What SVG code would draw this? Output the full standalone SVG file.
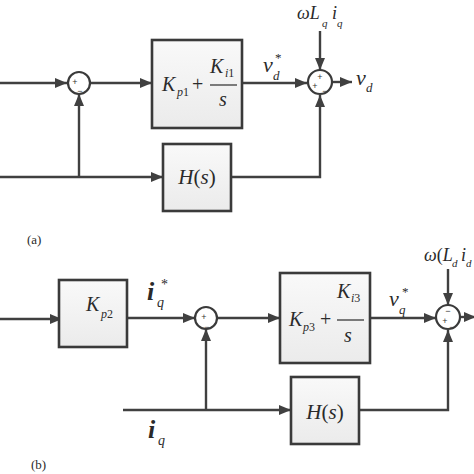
<svg xmlns="http://www.w3.org/2000/svg" width="474" height="474" viewBox="0 0 474 474">
<style>
.ln{fill:none;stroke:#404040;stroke-width:2.4}
.bx{fill:url(#g);stroke:#3a3a3a;stroke-width:2.6}
.sm{fill:#fff;stroke:#3a3a3a;stroke-width:2.2}
.t{font-family:"Liberation Serif","Times New Roman",serif;font-style:italic;fill:#2a2a2a}
.n{font-family:"Liberation Serif","Times New Roman",serif;font-style:normal;fill:#2a2a2a}
.sg{font-family:"Liberation Sans",Arial,sans-serif;fill:#333;font-size:9px}
</style>
<defs>
<linearGradient id="g" x1="0" y1="0" x2="0" y2="1">
<stop offset="0" stop-color="#f9f9f9"/>
<stop offset="1" stop-color="#ebebeb"/>
</linearGradient>
<marker id="a" markerUnits="userSpaceOnUse" markerWidth="12" markerHeight="10" refX="12" refY="5" orient="auto">
<path d="M0,0 L12,5 L0,10 z" fill="#404040"/>
</marker>
</defs>

<g id="connectors">
<!-- (a) -->
<line class="ln" x1="0" y1="83" x2="67" y2="83" marker-end="url(#a)"/>
<line class="ln" x1="90" y1="83" x2="152" y2="83" marker-end="url(#a)"/>
<polyline class="ln" points="0,177 163,177" marker-end="url(#a)"/>
<line class="ln" x1="79" y1="177" x2="79" y2="94" marker-end="url(#a)"/>
<line class="ln" x1="242" y1="83" x2="307" y2="83" marker-end="url(#a)"/>
<line class="ln" x1="320" y1="31" x2="320" y2="70" marker-end="url(#a)"/>
<polyline class="ln" points="231,177 320,177 320,95" marker-end="url(#a)"/>
<line class="ln" x1="332" y1="82" x2="352" y2="82" marker-end="url(#a)"/>
<!-- (b) -->
<line class="ln" x1="0" y1="319" x2="62" y2="319" marker-end="url(#a)"/>
<line class="ln" x1="127" y1="318" x2="195" y2="318" marker-end="url(#a)"/>
<line class="ln" x1="217" y1="318" x2="280" y2="318" marker-end="url(#a)"/>
<polyline class="ln" points="123,410 291,410" marker-end="url(#a)"/>
<line class="ln" x1="206" y1="410" x2="206" y2="329" marker-end="url(#a)"/>
<line class="ln" x1="370" y1="318" x2="436" y2="318" marker-end="url(#a)"/>
<line class="ln" x1="448" y1="269" x2="448" y2="305" marker-end="url(#a)"/>
<polyline class="ln" points="359,410 448,410 448,330" marker-end="url(#a)"/>
<line class="ln" x1="460" y1="317" x2="476" y2="317" marker-end="url(#a)"/>
</g>

<g id="sum1">
<circle class="sm" cx="79" cy="83" r="11"/>
<text class="sg" x="75" y="85" text-anchor="middle">+</text>
<text class="sg" x="80" y="94" text-anchor="middle">−</text>
</g>

<g id="pi1">
<rect class="bx" x="152" y="40" width="90" height="88"/>
<text class="t" x="162" y="91" font-size="20">K</text>
<text class="t" x="177" y="96" font-size="12">p<tspan class="n">1</tspan></text>
<text class="n" x="192" y="91" font-size="20">+</text>
<text class="t" x="210" y="73" font-size="20">K</text>
<text class="t" x="225" y="77" font-size="12">i<tspan class="n">1</tspan></text>
<line x1="210" y1="85" x2="237" y2="85" stroke="#2a2a2a" stroke-width="1.2"/>
<text class="t" x="219" y="106" font-size="20">s</text>
</g>

<g id="H1">
<rect class="bx" x="163" y="144" width="68" height="67"/>
<text class="t" x="197" y="184" font-size="21" text-anchor="middle">H<tspan class="n">(</tspan>s<tspan class="n">)</tspan></text>
</g>

<g id="sum2">
<circle class="sm" cx="320" cy="82" r="12"/>
<text class="sg" x="320" y="80" text-anchor="middle">+</text>
<text class="sg" x="315" y="89" text-anchor="middle">+</text>
<text class="sg" x="325" y="94" text-anchor="middle">−</text>
</g>

<g id="labels-a">
<text class="t" x="297" y="19" font-size="18">ωL</text>
<text class="t" x="322" y="27" font-size="11">q</text>
<text class="t" x="332" y="19" font-size="18">i</text>
<text class="t" x="337" y="27" font-size="11">q</text>
<text class="t" x="263" y="72" font-size="22">v</text>
<text class="t" x="273" y="80" font-size="13">d</text>
<text class="n" x="275" y="62" font-size="13">*</text>
<text class="t" x="356" y="85" font-size="22">v</text>
<text class="t" x="366" y="92" font-size="13">d</text>
<text class="n" x="27" y="244" font-size="13">(a)</text>
</g>

<g id="Kp2">
<rect class="bx" x="59" y="280" width="68" height="67"/>
<text class="t" x="86" y="311" font-size="20">K</text>
<text class="t" x="101" y="318" font-size="12">p<tspan class="n">2</tspan></text>
</g>

<g id="sum3">
<circle class="sm" cx="206" cy="318" r="11"/>
<text class="sg" x="204" y="320" text-anchor="middle">+</text>
<text class="sg" x="207" y="330" text-anchor="middle">−</text>
</g>

<g id="pi3">
<rect class="bx" x="280" y="273" width="90" height="90"/>
<text class="t" x="289" y="326" font-size="20">K</text>
<text class="t" x="303" y="331" font-size="12">p<tspan class="n">3</tspan></text>
<text class="n" x="320" y="326" font-size="20">+</text>
<text class="t" x="337" y="298" font-size="20">K</text>
<text class="t" x="351" y="302" font-size="12">i<tspan class="n">3</tspan></text>
<line x1="337" y1="320" x2="364" y2="320" stroke="#2a2a2a" stroke-width="1.2"/>
<text class="t" x="344" y="342" font-size="20">s</text>
</g>

<g id="H2">
<rect class="bx" x="291" y="377" width="68" height="67"/>
<text class="t" x="325" y="419" font-size="21" text-anchor="middle">H<tspan class="n">(</tspan>s<tspan class="n">)</tspan></text>
</g>

<g id="sum4">
<circle class="sm" cx="448" cy="317" r="12"/>
<text class="sg" x="448" y="314" text-anchor="middle">−</text>
<text class="sg" x="445" y="324" text-anchor="middle">+</text>
<text class="sg" x="452" y="330" text-anchor="middle">−</text>
</g>

<g id="labels-b">
<text class="t" x="147" y="300" font-size="26" font-weight="bold">i</text>
<text class="t" x="157" y="307" font-size="14">q</text>
<text class="n" x="161" y="289" font-size="14">*</text>
<text class="t" x="148" y="438" font-size="26" font-weight="bold">i</text>
<text class="t" x="158" y="445" font-size="14">q</text>
<text class="t" x="389" y="306" font-size="22">v</text>
<text class="t" x="399" y="314" font-size="13">q</text>
<text class="n" x="402" y="296" font-size="13">*</text>
<text class="t" x="424" y="261" font-size="18">ω<tspan class="n">(</tspan>L</text>
<text class="t" x="452" y="267" font-size="11">d</text>
<text class="t" x="461" y="261" font-size="18">i</text>
<text class="t" x="466" y="267" font-size="11">d</text>
<text class="n" x="31" y="469" font-size="13">(b)</text>
</g>
</svg>
